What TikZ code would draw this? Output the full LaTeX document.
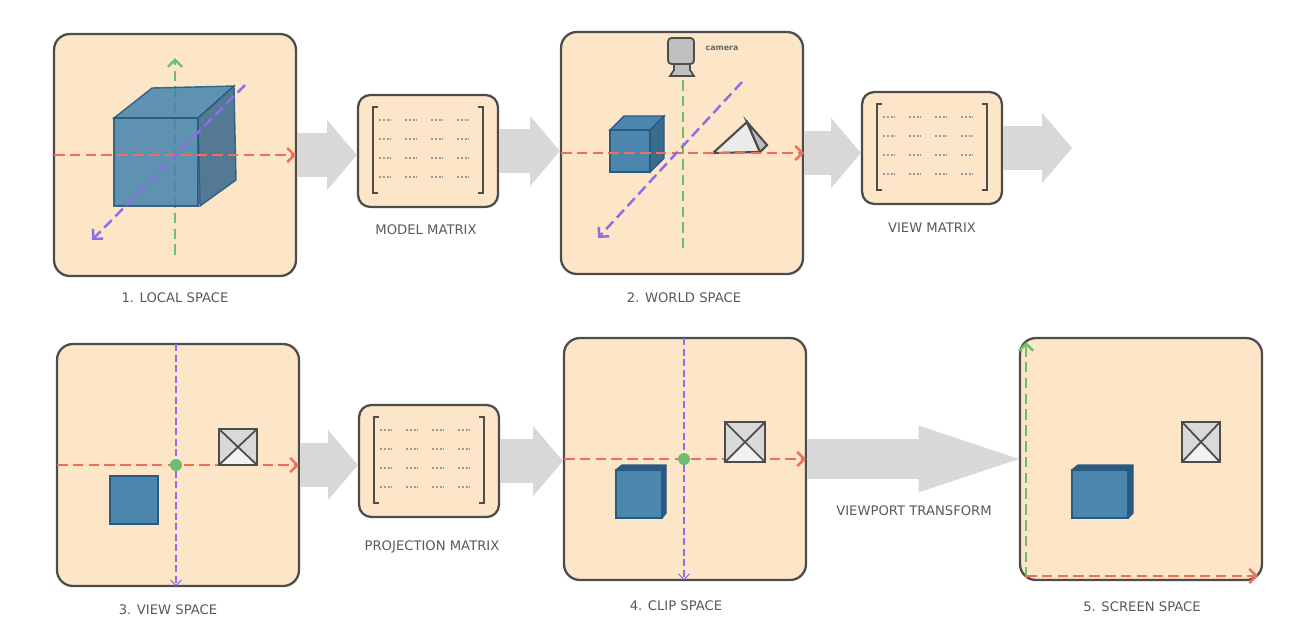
\documentclass[tikz,border=0pt]{standalone}
\usepackage{fontspec}
\setmainfont{DejaVu Sans}
\usetikzlibrary{calc,arrows.meta}
\definecolor{paper}{RGB}{253,229,200}
\definecolor{cubeblue}{RGB}{74,134,174}
\definecolor{cubedark}{RGB}{40,90,130}
\definecolor{axred}{RGB}{240,110,90}
\definecolor{axgreen}{RGB}{110,190,110}
\definecolor{axpurple}{RGB}{140,110,230}
\definecolor{flow}{RGB}{216,216,216}
\tikzset{
  space/.style={draw=black!70, line width=1.3pt, fill=paper, rounded corners=9pt,
    minimum width=4.84cm, minimum height=4.84cm, inner sep=0},
  matrixbox/.style={draw=black!70, line width=1.3pt, fill=paper, rounded corners=7pt,
    minimum width=2.8cm, minimum height=2.24cm, inner sep=0},
  caption/.style={text=black!65, font=\fontsize{7.5}{9}\selectfont},
  axis/.style={dashed, line width=1.4pt, dash pattern=on 6pt off 3pt, -{Straight Barb[length=4pt]}},
  thinaxis/.style={dashed, line width=0.6pt, dash pattern=on 4pt off 2pt, -{Straight Barb[length=3pt]}},
  cube/.style={fill=cubeblue, draw=cubedark, line width=0.8pt},
  crossbox/.style={fill=black!15, draw=black!70, line width=1.4pt},
}
% block arrow: from, to, shaft half, head half, head length (pt)
\newcommand{\flowarrow}[5]{%
  \fill[flow] let \p1=(#1), \p2=(#2) in
    (\x1,\y1+#3pt) -- (\x2-#5pt,\y1+#3pt) -- (\x2-#5pt,\y1+#4pt) -- (\x2,\y1)
    -- (\x2-#5pt,\y1-#4pt) -- (\x2-#5pt,\y1-#3pt) -- (\x1,\y1-#3pt) -- cycle;
}
\newcommand{\matrixdots}[1]{%
  \foreach \r in {0,1,2,3}
    \foreach \c in {0,1,2,3}
      \draw[black!40, line width=1.2pt, dash pattern=on 1.2pt off 1pt]
        ([xshift=(22+26*\c)*0.02cm, yshift=-(26+19*\r)*0.02cm]#1.north west) -- ++(0.24cm,0);
  \draw[black!70, line width=1.5pt] ([xshift=0.42cm,yshift=-0.26cm]#1.north west) -- ++(-0.1cm,0) -- ++(0,-1.72cm) -- ++(0.1cm,0);
  \draw[black!70, line width=1.5pt] ([xshift=-0.42cm,yshift=-0.26cm]#1.north east) -- ++(0.1cm,0) -- ++(0,-1.72cm) -- ++(-0.1cm,0);
}
\newcommand{\crossed}[4]{%
  \draw[crossbox] (#1,#2) rectangle (#3,#4);
  \fill[black!5] (#1,#4) -- ({(#1+#3)/2},{(#2+#4)/2}) -- (#3,#4) -- cycle;
  \draw[black!70, line width=1pt] (#1,#2) -- (#3,#4) (#1,#4) -- (#3,#2);
  \draw[crossbox, fill=none] (#1,#2) rectangle (#3,#4);
}
\begin{document}
\begin{tikzpicture}[x=0.02cm, y=-0.02cm]
\useasboundingbox (0,0) rectangle (1311,643);

% boxes of the first row
\node[space] (local) at (175,155) {};
\node[matrixbox] (model) at (428,151) {};
\node[space] (world) at (682,153) {};
\node[matrixbox] (view) at (932,148) {};
\coordinate (out) at (1072,148);
% boxes of the second row
\node[space] (viewsp) at (178,465) {};
\node[matrixbox] (proj) at (429,461) {};
\node[space] (clip) at (685,459) {};
\node[space] (screen) at (1141,459) {};

% captions
\node[caption] at (175,298) {1. LOCAL SPACE};
\node[caption] at (426,230) {MODEL MATRIX};
\node[caption] at (684,298) {2. WORLD SPACE};
\node[caption] at (932,228) {VIEW MATRIX};
\node[caption] at (168,610) {3. VIEW SPACE};
\node[caption] at (432,547) {PROJECTION MATRIX};
\node[caption] at (676,606) {4. CLIP SPACE};
\node[caption] at (914,511) {VIEWPORT TRANSFORM};
\node[caption] at (1142,607) {5. SCREEN SPACE};

% flow arrows
\flowarrow{local.east}{model.west}{12.5}{20}{17}
\flowarrow{model.east}{world.west}{12.5}{20}{17}
\flowarrow{world.east}{view.west}{12.5}{20}{17}
\flowarrow{view.east}{out}{12.5}{20}{17}
\flowarrow{viewsp.east}{proj.west}{12.5}{20}{17}
\flowarrow{proj.east}{clip.west}{12.5}{20}{17}
\flowarrow{clip.east}{screen.west}{11.3}{19}{57}

\matrixdots{model}
\matrixdots{view}
\matrixdots{proj}

% local space
\draw[axis, axgreen] (175,255) -- (175,58);
\begin{scope}[opacity=0.88]
\draw[cube] (114,118) -- (152,88) -- (234,86) -- (198,118) -- cycle;
\draw[cube, fill=cubedark!90] (198,118) -- (234,86) -- (236,180) -- (200,206) -- cycle;
\draw[cube] (114,118) rectangle (198,206);
\end{scope}
\draw[axis, axred] (54,155) -- (296,155);
\draw[axis, axpurple] (245,85) -- (92,240);

% world space
\draw[axis, axgreen, -] (683,80) -- (683,248);
\draw[fill=black!25, draw=black!70, line width=1pt, rounded corners=2pt] (668,38) rectangle (694,64);
\draw[fill=black!25, draw=black!70, line width=1pt] (674,64) -- (690,64) -- (690,70) -- (694,76) -- (670,76) -- (674,70) -- cycle;
\node[font=\bfseries\fontsize{4.5}{5}\selectfont, text=black!60] at (722,48) {camera};
\draw[cube] (610,130) -- (624,116) -- (664,116) -- (650,130) -- cycle;
\draw[cube, fill=cubedark!90] (650,130) -- (664,116) -- (664,158) -- (650,172) -- cycle;
\draw[cube] (610,130) rectangle (650,172);
\draw[fill=black!8, draw=black!70, line width=1.2pt] (713,153) -- (747,122) -- (760,152) -- cycle;
\draw[fill=black!25, draw=black!70, line width=1.2pt] (747,122) -- (767,145) -- (760,152) -- cycle;
\draw[axis, axred] (561,153) -- (804,153);
\draw[axis, axpurple] (742,82) -- (598,238);

% view space
\draw[thinaxis, axpurple] (176,344) -- (176,586);
\draw[axis, axred] (57,465) -- (299,465);
\fill[axgreen] (176,465) circle (6);
\draw[cube] (110,476) rectangle (158,524);
\crossed{219}{429}{257}{465}

% clip space
\draw[thinaxis, axpurple] (684,338) -- (684,580);
\draw[axis, axred] (564,459) -- (806,459);
\fill[axgreen] (684,459) circle (6);
\draw[cube, fill=cubedark] (616,470) -- (622,465) -- (666,465) -- (666,513) -- (662,518) -- cycle;
\draw[cube] (616,470) rectangle (662,518);
\crossed{725}{422}{765}{462}

% screen space
\draw[axis, axgreen] (1026,578) -- (1026,342);
\draw[axis, axred] (1026,576) -- (1258,576);
\draw[cube, fill=cubedark] (1072,470) -- (1078,465) -- (1133,465) -- (1133,513) -- (1128,518) -- cycle;
\draw[cube] (1072,470) rectangle (1128,518);
\crossed{1182}{422}{1220}{462}
\end{tikzpicture}
\end{document}
